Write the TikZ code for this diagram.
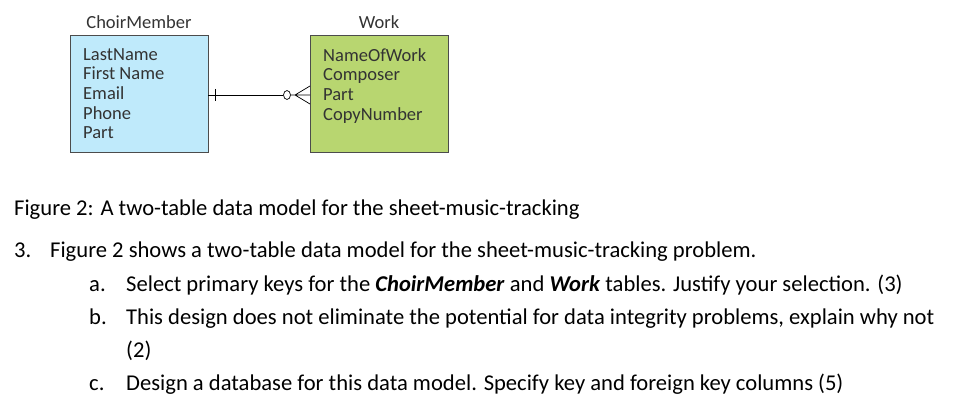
\documentclass[tikz,border=0pt]{standalone}
\usepackage{fontspec}
\setmainfont{Carlito}
\begin{document}
\begin{tikzpicture}[x=1pt,y=-1pt,
  ent/.style={draw=black!70,line width=0.8pt},
  dtxt/.style={font=\fontsize{18.5}{19.7}\selectfont,text=black!80,anchor=north west,align=left,inner sep=0},
  btxt/.style={font=\fontsize{22.6}{26}\selectfont,anchor=base west,inner sep=0}]
\useasboundingbox (0,0) rectangle (954,417);
\node[ent,fill=cyan!25!white,minimum width=138,minimum height=117,anchor=north west,inner sep=0] (cm) at (70,35) {};
\node[ent,fill={rgb,255:red,184;green,214;blue,112},minimum width=138,minimum height=117,anchor=north west,inner sep=0] (wk) at (310,35) {};
\node[font=\fontsize{18.5}{20}\selectfont,text=black!80] (t1) at (139,22) {ChoirMember};
\node[font=\fontsize{18.5}{20}\selectfont,text=black!80] (t2) at (379,22) {Work};
\node[dtxt] (a1) at (83,48) {LastName\\First Name\\Email\\Phone\\Part};
\node[dtxt] (a2) at (323,48) {NameOfWork\\Composer\\Part\\CopyNumber};
\coordinate (p1) at (208,95);
\coordinate (p2) at (310,95);
\draw[line width=0.7pt] (p1) -- (283,95);
\draw[line width=0.7pt] (215,89) -- (215,101);
\draw[line width=0.7pt] (287,95) circle[x radius=3.5,y radius=4.5];
\draw[line width=0.7pt] (p2) -- (295,95) (310,86) -- (295,95) -- (310,104) (291,95)--(295,95);
\node[btxt] (cap) at (14,215) {Figure 2: A two-table data model for the sheet-music-tracking};
\node[btxt] (n3) at (14,257) {3.};
\node[btxt] (q3) at (50,257) {Figure 2 shows a two-table data model for the sheet-music-tracking problem.};
\node[btxt] (la) at (89,291) {a.};
\node[btxt] (qa) at (126,291) {Select primary keys for the \textbf{\textit{ChoirMember}} and \textbf{\textit{Work}} tables. Justify your selection. (3)};
\node[btxt] (lb) at (89,324) {b.};
\node[btxt] (qb) at (126,324) {This design does not eliminate the potential for data integrity problems, explain why not};
\node[btxt] (qb2) at (126,357) {(2)};
\node[btxt] (lc) at (89,390) {c.};
\node[btxt] (qc) at (126,390) {Design a database for this data model. Specify key and foreign key columns (5)};
\end{tikzpicture}
\end{document}
